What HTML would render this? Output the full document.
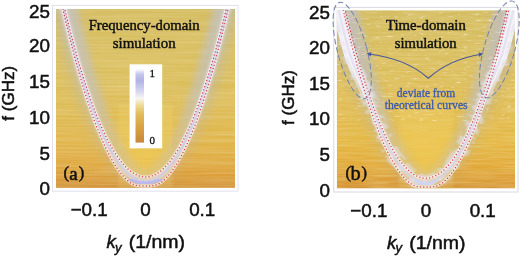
<!DOCTYPE html>
<html><head><meta charset="utf-8"><title>Dispersion</title>
<style>html,body{margin:0;padding:0;background:#fff;width:520px;height:258px;overflow:hidden}svg{display:block}</style></head>
<body>
<svg width="520" height="258" viewBox="0 0 520 258">
<defs>
<linearGradient id="bgL" x1="0" y1="0" x2="0" y2="1">
<stop offset="0" stop-color="#d4bc60"/><stop offset="0.25" stop-color="#d9bf60"/><stop offset="0.5" stop-color="#ddbd58"/><stop offset="0.73" stop-color="#e1b54a"/><stop offset="0.87" stop-color="#e0a73e"/><stop offset="0.95" stop-color="#d99a38"/><stop offset="1" stop-color="#d29036"/>
</linearGradient>
<linearGradient id="bgR" x1="0" y1="0" x2="0" y2="1">
<stop offset="0" stop-color="#d3bb60"/><stop offset="0.25" stop-color="#d9be5e"/><stop offset="0.5" stop-color="#dfbc54"/><stop offset="0.73" stop-color="#e5b742"/><stop offset="0.87" stop-color="#e3a938"/><stop offset="0.95" stop-color="#dc9c36"/><stop offset="1" stop-color="#d49234"/>
</linearGradient>
<linearGradient id="inglowL" gradientUnits="userSpaceOnUse" x1="0" y1="100" x2="0" y2="180"><stop offset="0" stop-color="#ecc84c" stop-opacity="0"/><stop offset="0.6" stop-color="#eec84a" stop-opacity="0.55"/><stop offset="1" stop-color="#f0c646" stop-opacity="0.8"/></linearGradient>
<linearGradient id="inglowR" gradientUnits="userSpaceOnUse" x1="0" y1="100" x2="0" y2="180"><stop offset="0" stop-color="#ecc84c" stop-opacity="0"/><stop offset="0.6" stop-color="#eec84a" stop-opacity="0.55"/><stop offset="1" stop-color="#f0c646" stop-opacity="0.8"/></linearGradient>
<linearGradient id="cbar" x1="0" y1="0" x2="0" y2="1">
<stop offset="0" stop-color="#ffffff"/><stop offset="0.07" stop-color="#c6c6ee"/><stop offset="0.16" stop-color="#b2b2e6"/><stop offset="0.3" stop-color="#d6d6f2"/><stop offset="0.4" stop-color="#f8f6f0"/><stop offset="0.5" stop-color="#ecd890"/><stop offset="0.62" stop-color="#e0bc58"/><stop offset="0.8" stop-color="#d8a042"/><stop offset="1" stop-color="#c8883a"/>
</linearGradient>
<linearGradient id="tf" x1="0" y1="0" x2="0" y2="1"><stop offset="0" stop-color="#fff"/><stop offset="0.3" stop-color="#fff"/><stop offset="0.55" stop-color="#000"/><stop offset="1" stop-color="#000"/></linearGradient>
<linearGradient id="hf" x1="0" y1="0" x2="0" y2="1"><stop offset="0" stop-color="#fff"/><stop offset="0.45" stop-color="#c4c4c4"/><stop offset="1" stop-color="#3a3a3a"/></linearGradient>
<mask id="halofadeL" maskUnits="userSpaceOnUse" x="50" y="0" width="190" height="200"><rect x="50" y="0" width="190" height="200" fill="url(#hf)"/></mask>
<mask id="halofadeR" maskUnits="userSpaceOnUse" x="330" y="0" width="190" height="200"><rect x="330" y="0" width="190" height="200" fill="url(#hf)"/></mask>
<mask id="topfade" maskUnits="userSpaceOnUse" x="330" y="0" width="190" height="200"><rect x="330" y="0" width="190" height="200" fill="url(#tf)"/></mask>
<filter id="streakL" x="0" y="0" width="1" height="1"><feTurbulence type="fractalNoise" baseFrequency="0.012 0.55" numOctaves="2" seed="3"/><feColorMatrix type="matrix" values="0 0 0 0 0.76  0 0 0 0 0.63  0 0 0 0 0.28  1.6 0 0 0 -0.6"/></filter>
<filter id="streakR" x="0" y="0" width="1" height="1"><feTurbulence type="fractalNoise" baseFrequency="0.03 0.6" numOctaves="2" seed="8"/><feColorMatrix type="matrix" values="0 0 0 0 0.80  0 0 0 0 0.64  0 0 0 0 0.24  1.7 0 0 0 -0.62"/></filter>
<filter id="liteL" x="0" y="0" width="1" height="1"><feTurbulence type="fractalNoise" baseFrequency="0.012 0.5" numOctaves="2" seed="11"/><feColorMatrix type="matrix" values="0 0 0 0 0.96  0 0 0 0 0.88  0 0 0 0 0.56  1.6 0 0 0 -0.6"/></filter>
<filter id="liteR" x="0" y="0" width="1" height="1"><feTurbulence type="fractalNoise" baseFrequency="0.03 0.55" numOctaves="2" seed="17"/><feColorMatrix type="matrix" values="0 0 0 0 0.97  0 0 0 0 0.88  0 0 0 0 0.5  1.7 0 0 0 -0.62"/></filter>
<filter id="speck" x="0" y="0" width="1" height="1"><feTurbulence type="fractalNoise" baseFrequency="0.16 0.5" numOctaves="1" seed="21"/><feColorMatrix type="matrix" values="0 0 0 0 0.93  0 0 0 0 0.90  0 0 0 0 0.82  5 0 0 0 -3.05"/></filter>
<filter id="blur5" x="-0.2" y="-0.2" width="1.4" height="1.4"><feGaussianBlur stdDeviation="5"/></filter>
<filter id="blotch" x="-0.1" y="-0.1" width="1.2" height="1.2"><feTurbulence type="fractalNoise" baseFrequency="0.09 0.14" numOctaves="2" seed="5" result="n"/><feColorMatrix in="n" type="matrix" values="0 0 0 0 1  0 0 0 0 1  0 0 0 0 1  0 0 0 9 -4.1" result="m"/><feGaussianBlur in="SourceGraphic" stdDeviation="1.2" result="b"/><feComposite in="b" in2="m" operator="in" result="c"/><feGaussianBlur in="c" stdDeviation="0.7"/></filter>
<filter id="blur3" x="-0.2" y="-0.2" width="1.4" height="1.4"><feGaussianBlur stdDeviation="3"/></filter>
<filter id="blur2" x="-0.2" y="-0.2" width="1.4" height="1.4"><feGaussianBlur stdDeviation="1.5"/></filter>
<filter id="blur1" x="-0.2" y="-0.2" width="1.4" height="1.4"><feGaussianBlur stdDeviation="0.7"/></filter>
</defs>
<style>
text{font-family:"Liberation Sans",sans-serif;fill:#111;stroke:#111;stroke-width:0.5px}
.tk{font-size:18.8px}
.ser{font-family:"Liberation Serif",serif;stroke-width:0}
.blue{fill:#3b59ac;stroke:#3b59ac;stroke-width:0.3px}
</style>
<rect width="520" height="258" fill="#fff"/>
<rect x="52.5" y="5.4" width="185.5" height="185.79999999999998" fill="#fff" stroke="#e2e2ee" stroke-width="1"/>
<clipPath id="clipL"><rect x="56" y="9" width="179" height="178.9"/></clipPath>
<g clip-path="url(#clipL)">
<rect x="56" y="9" width="179" height="178.9" fill="url(#bgL)"/>
<rect x="56" y="9" width="179" height="178.9" filter="url(#streakL)" opacity="0.5"/>
<rect x="56" y="9" width="179" height="178.9" filter="url(#liteL)" opacity="0.25"/>
<path d="M62.9,1.0 L65.9,13.6 L68.9,25.7 L71.9,37.3 L74.9,48.5 L77.9,59.2 L80.9,69.4 L83.9,79.2 L86.9,88.5 L89.9,97.3 L92.9,105.7 L95.9,113.6 L98.9,121.1 L102.0,128.1 L105.0,134.6 L108.0,140.6 L111.0,146.2 L114.0,151.3 L117.0,156.0 L120.0,160.2 L123.0,163.9 L126.0,167.2 L129.0,170.0 L132.0,172.3 L135.0,174.1 L138.0,175.5 L141.0,176.5 L144.0,176.9 L147.0,176.9 L150.0,176.5 L153.0,175.5 L156.0,174.1 L159.0,172.3 L162.0,170.0 L165.0,167.2 L168.0,163.9 L171.0,160.2 L174.0,156.0 L177.0,151.3 L180.0,146.2 L183.0,140.6 L186.0,134.6 L189.0,128.1 L192.1,121.1 L195.1,113.6 L198.1,105.7 L201.1,97.3 L204.1,88.5 L207.1,79.2 L210.1,69.4 L213.1,59.2 L216.1,48.5 L219.1,37.3 L222.1,25.7 L225.1,13.6 L228.1,1.0 Z" fill="url(#inglowL)" stroke="none"/>
<rect x="118.5" y="104" width="54" height="83.9" fill="#f4dc7c" opacity="0.22" filter="url(#blur2)"/>
<path d="M61.9,1.0 L63.4,7.4 L64.9,13.8 L66.4,20.0 L67.9,26.1 L69.4,32.1 L70.9,37.9 L72.4,43.7 L73.9,49.3 L75.4,54.8 L76.9,60.2 L78.4,65.5 L79.9,70.6 L81.4,75.7 L83.0,80.6 L84.5,85.4 L86.0,90.1 L87.5,94.6 L89.0,99.1 L90.5,103.4 L92.0,107.7 L93.5,111.8 L95.0,115.7 L96.5,119.6 L98.0,123.4 L99.5,127.0 L101.0,130.5 L102.5,133.9 L104.1,137.2 L105.6,140.3 L107.1,143.4 L108.6,146.3 L110.1,149.1 L111.6,151.8 L113.1,154.4 L114.6,156.9 L116.1,159.2 L117.6,161.4 L119.1,163.6 L120.6,165.5 L122.1,167.4 L123.6,169.2 L125.2,170.8 L126.7,172.3 L128.2,173.8 L129.7,175.0 L131.2,176.2 L132.7,177.3 L134.2,178.2 L135.7,179.0 L137.2,179.7 L138.7,180.3 L140.2,180.8 L141.7,181.1 L143.2,181.4 L144.7,181.5 L146.3,181.5 L147.8,181.4 L149.3,181.1 L150.8,180.8 L152.3,180.3 L153.8,179.7 L155.3,179.0 L156.8,178.2 L158.3,177.3 L159.8,176.2 L161.3,175.0 L162.8,173.8 L164.3,172.3 L165.8,170.8 L167.4,169.2 L168.9,167.4 L170.4,165.5 L171.9,163.6 L173.4,161.4 L174.9,159.2 L176.4,156.9 L177.9,154.4 L179.4,151.8 L180.9,149.1 L182.4,146.3 L183.9,143.4 L185.4,140.3 L186.9,137.2 L188.5,133.9 L190.0,130.5 L191.5,127.0 L193.0,123.4 L194.5,119.6 L196.0,115.7 L197.5,111.8 L199.0,107.7 L200.5,103.4 L202.0,99.1 L203.5,94.6 L205.0,90.1 L206.5,85.4 L208.0,80.6 L209.6,75.7 L211.1,70.6 L212.6,65.5 L214.1,60.2 L215.6,54.8 L217.1,49.3 L218.6,43.7 L220.1,37.9 L221.6,32.1 L223.1,26.1 L224.6,20.0 L226.1,13.8 L227.6,7.4 L229.1,1.0" fill="none" stroke="#b2b4c0" stroke-width="24" opacity="0.36" filter="url(#blur5)" mask="url(#halofadeL)"/>
<path d="M66.4,1.0 L67.9,7.4 L69.4,13.8 L70.9,20.0 L72.4,26.1 L73.9,32.1 L75.4,37.9 L76.9,43.7 L78.4,49.3 L79.9,54.8 L81.4,60.2 L82.9,65.5 L84.4,70.6 L85.9,75.7 L87.5,80.6 L89.0,85.4 L90.5,90.1 L92.0,94.6 L93.5,99.1 L95.0,103.4 L96.5,107.7 L98.0,111.8 L99.5,115.7 L101.0,119.6 L102.5,123.4 L104.0,127.0 L105.5,130.5 L107.0,133.9 L108.6,137.2 L110.1,140.3 L111.6,143.4 L113.1,146.3 L114.6,149.1 L116.1,151.8 L117.6,154.4 L119.1,156.9 L120.6,159.2 L122.1,161.4 L123.6,163.6 L125.1,165.5 L126.6,167.4 L128.1,169.2 L129.7,170.8 L131.2,172.3 L132.7,173.8 L134.2,175.0 L135.7,176.2 L137.2,177.3 L138.7,178.2 L140.2,179.0 L141.7,179.7 L143.2,180.3 L144.7,180.8 L146.2,181.1 L147.7,181.4 L149.2,181.5 L141.8,181.5 L143.3,181.4 L144.8,181.1 L146.3,180.8 L147.8,180.3 L149.3,179.7 L150.8,179.0 L152.3,178.2 L153.8,177.3 L155.3,176.2 L156.8,175.0 L158.3,173.8 L159.8,172.3 L161.3,170.8 L162.9,169.2 L164.4,167.4 L165.9,165.5 L167.4,163.6 L168.9,161.4 L170.4,159.2 L171.9,156.9 L173.4,154.4 L174.9,151.8 L176.4,149.1 L177.9,146.3 L179.4,143.4 L180.9,140.3 L182.4,137.2 L184.0,133.9 L185.5,130.5 L187.0,127.0 L188.5,123.4 L190.0,119.6 L191.5,115.7 L193.0,111.8 L194.5,107.7 L196.0,103.4 L197.5,99.1 L199.0,94.6 L200.5,90.1 L202.0,85.4 L203.5,80.6 L205.1,75.7 L206.6,70.6 L208.1,65.5 L209.6,60.2 L211.1,54.8 L212.6,49.3 L214.1,43.7 L215.6,37.9 L217.1,32.1 L218.6,26.1 L220.1,20.0 L221.6,13.8 L223.1,7.4 L224.6,1.0" fill="none" stroke="#c4c5cc" stroke-width="18" opacity="0.6" filter="url(#blur3)" mask="url(#halofadeL)"/>
<path d="M61.9,1.0 L63.4,7.4 L64.9,13.8 L66.4,20.0 L67.9,26.1 L69.4,32.1 L70.9,37.9 L72.4,43.7 L73.9,49.3 L75.4,54.8 L76.9,60.2 L78.4,65.5 L79.9,70.6 L81.4,75.7 L83.0,80.6 L84.5,85.4 L86.0,90.1 L87.5,94.6 L89.0,99.1 L90.5,103.4 L92.0,107.7 L93.5,111.8 L95.0,115.7 L96.5,119.6 L98.0,123.4 L99.5,127.0 L101.0,130.5 L102.5,133.9 L104.1,137.2 L105.6,140.3 L107.1,143.4 L108.6,146.3 L110.1,149.1 L111.6,151.8 L113.1,154.4 L114.6,156.9 L116.1,159.2 L117.6,161.4 L119.1,163.6 L120.6,165.5 L122.1,167.4 L123.6,169.2 L125.2,170.8 L126.7,172.3 L128.2,173.8 L129.7,175.0 L131.2,176.2 L132.7,177.3 L134.2,178.2 L135.7,179.0 L137.2,179.7 L138.7,180.3 L140.2,180.8 L141.7,181.1 L143.2,181.4 L144.7,181.5 L146.3,181.5 L147.8,181.4 L149.3,181.1 L150.8,180.8 L152.3,180.3 L153.8,179.7 L155.3,179.0 L156.8,178.2 L158.3,177.3 L159.8,176.2 L161.3,175.0 L162.8,173.8 L164.3,172.3 L165.8,170.8 L167.4,169.2 L168.9,167.4 L170.4,165.5 L171.9,163.6 L173.4,161.4 L174.9,159.2 L176.4,156.9 L177.9,154.4 L179.4,151.8 L180.9,149.1 L182.4,146.3 L183.9,143.4 L185.4,140.3 L186.9,137.2 L188.5,133.9 L190.0,130.5 L191.5,127.0 L193.0,123.4 L194.5,119.6 L196.0,115.7 L197.5,111.8 L199.0,107.7 L200.5,103.4 L202.0,99.1 L203.5,94.6 L205.0,90.1 L206.5,85.4 L208.0,80.6 L209.6,75.7 L211.1,70.6 L212.6,65.5 L214.1,60.2 L215.6,54.8 L217.1,49.3 L218.6,43.7 L220.1,37.9 L221.6,32.1 L223.1,26.1 L224.6,20.0 L226.1,13.8 L227.6,7.4 L229.1,1.0" fill="none" stroke="#efeef6" stroke-width="6" opacity="0.65" filter="url(#blur2)"/>
<path d="M62.9,1.0 L64.4,7.3 L65.9,13.6 L67.4,19.7 L68.9,25.7 L70.4,31.5 L71.9,37.3 L73.4,42.9 L74.9,48.5 L76.4,53.9 L77.9,59.2 L79.4,64.4 L80.9,69.4 L82.4,74.4 L83.9,79.2 L85.4,83.9 L86.9,88.5 L88.4,93.0 L89.9,97.3 L91.4,101.6 L92.9,105.7 L94.4,109.7 L95.9,113.6 L97.4,117.4 L98.9,121.1 L100.4,124.6 L102.0,128.1 L103.5,131.4 L105.0,134.6 L106.5,137.7 L108.0,140.6 L109.5,143.5 L111.0,146.2 L112.5,148.8 L114.0,151.3 L115.5,153.7 L117.0,156.0 L118.5,158.1 L120.0,160.2 L121.5,162.1 L123.0,163.9 L124.5,165.6 L126.0,167.2 L127.5,168.6 L129.0,170.0 L130.5,171.2 L132.0,172.3 L133.5,173.3 L135.0,174.1 L136.5,174.9 L138.0,175.5 L139.5,176.1 L141.0,176.5 L142.5,176.8 L144.0,176.9 L145.5,177.0 L147.0,176.9 L148.5,176.8 L150.0,176.5 L151.5,176.1 L153.0,175.5 L154.5,174.9 L156.0,174.1 L157.5,173.3 L159.0,172.3 L160.5,171.2 L162.0,170.0 L163.5,168.6 L165.0,167.2 L166.5,165.6 L168.0,163.9 L169.5,162.1 L171.0,160.2 L172.5,158.1 L174.0,156.0 L175.5,153.7 L177.0,151.3 L178.5,148.8 L180.0,146.2 L181.5,143.5 L183.0,140.6 L184.5,137.7 L186.0,134.6 L187.5,131.4 L189.0,128.1 L190.6,124.6 L192.1,121.1 L193.6,117.4 L195.1,113.6 L196.6,109.7 L198.1,105.7 L199.6,101.6 L201.1,97.3 L202.6,93.0 L204.1,88.5 L205.6,83.9 L207.1,79.2 L208.6,74.4 L210.1,69.4 L211.6,64.4 L213.1,59.2 L214.6,53.9 L216.1,48.5 L217.6,42.9 L219.1,37.3 L220.6,31.5 L222.1,25.7 L223.6,19.7 L225.1,13.6 L226.6,7.3 L228.1,1.0" fill="none" stroke="#faf7f8" stroke-width="2.8" opacity="0.7" filter="url(#blur1)"/>
<path d="M61.1,1.0 L62.6,7.7 L64.1,14.3 L65.6,20.7 L67.1,27.0 L68.6,33.2 L70.1,39.3 L71.6,45.3 L73.1,51.1 L74.6,56.8 L76.1,62.4 L77.6,67.9 L79.2,73.3 L80.7,78.5 L82.2,83.6 L83.7,88.6 L85.2,93.5 L86.7,98.3 L88.2,102.9 L89.7,107.4 L91.2,111.8 L92.7,116.1 L94.2,120.2 L95.7,124.3 L97.2,128.2 L98.8,132.0 L100.3,135.6 L101.8,139.2 L103.3,142.6 L104.8,145.9 L106.3,149.1 L107.8,152.1 L109.3,155.1 L110.8,157.9 L112.3,160.6 L113.8,163.1 L115.3,165.6 L116.8,167.9 L118.4,170.1 L119.9,172.1 L121.4,174.1 L122.9,175.9 L124.4,177.5 L125.9,179.1 L127.4,180.4 L128.9,181.7 L130.4,182.8 L131.9,183.7 L133.4,184.4 L134.9,185.0 L136.5,185.4 L138.0,185.7 L139.5,185.9 L141.0,186.0 L142.5,186.0 L144.0,186.0 L145.5,186.0 L147.0,186.0 L148.5,186.0 L150.0,186.0 L151.5,185.9 L153.0,185.7 L154.5,185.4 L156.1,185.0 L157.6,184.4 L159.1,183.7 L160.6,182.8 L162.1,181.7 L163.6,180.4 L165.1,179.1 L166.6,177.5 L168.1,175.9 L169.6,174.1 L171.1,172.1 L172.6,170.1 L174.2,167.9 L175.7,165.6 L177.2,163.1 L178.7,160.6 L180.2,157.9 L181.7,155.1 L183.2,152.1 L184.7,149.1 L186.2,145.9 L187.7,142.6 L189.2,139.2 L190.7,135.6 L192.2,132.0 L193.8,128.2 L195.3,124.3 L196.8,120.2 L198.3,116.1 L199.8,111.8 L201.3,107.4 L202.8,102.9 L204.3,98.3 L205.8,93.5 L207.3,88.6 L208.8,83.6 L210.3,78.5 L211.8,73.3 L213.4,67.9 L214.9,62.4 L216.4,56.8 L217.9,51.1 L219.4,45.3 L220.9,39.3 L222.4,33.2 L223.9,27.0 L225.4,20.7 L226.9,14.3 L228.4,7.7 L229.9,1.0" fill="none" stroke="#faf7f8" stroke-width="2.8" opacity="0.7" filter="url(#blur1)"/>
<path d="M61.9,1.0 L63.4,7.4 L64.9,13.8 L66.4,20.0 L67.9,26.1 L69.4,32.1 L70.9,37.9 L72.4,43.7 L73.9,49.3 L75.4,54.8 L76.9,60.2 L78.4,65.5 L79.9,70.6 L81.4,75.7 L83.0,80.6 L84.5,85.4 L86.0,90.1 L87.5,94.6 L89.0,99.1 L90.5,103.4 L92.0,107.7 L93.5,111.8 L95.0,115.7 L96.5,119.6 L98.0,123.4 L99.5,127.0 L101.0,130.5 L102.5,133.9 L104.1,137.2 L105.6,140.3 L107.1,143.4 L108.6,146.3 L110.1,149.1 L111.6,151.8 L113.1,154.4 L114.6,156.9 L116.1,159.2 L117.6,161.4 L119.1,163.6 L120.6,165.5 L122.1,167.4 L123.6,169.2 L125.2,170.8 L126.7,172.3 L128.2,173.8 L129.7,175.0 L131.2,176.2 L132.7,177.3 L134.2,178.2 L135.7,179.0 L137.2,179.7 L138.7,180.3 L140.2,180.8 L141.7,181.1 L143.2,181.4 L144.7,181.5 L146.3,181.5 L147.8,181.4 L149.3,181.1 L150.8,180.8 L152.3,180.3 L153.8,179.7 L155.3,179.0 L156.8,178.2 L158.3,177.3 L159.8,176.2 L161.3,175.0 L162.8,173.8 L164.3,172.3 L165.8,170.8 L167.4,169.2 L168.9,167.4 L170.4,165.5 L171.9,163.6 L173.4,161.4 L174.9,159.2 L176.4,156.9 L177.9,154.4 L179.4,151.8 L180.9,149.1 L182.4,146.3 L183.9,143.4 L185.4,140.3 L186.9,137.2 L188.5,133.9 L190.0,130.5 L191.5,127.0 L193.0,123.4 L194.5,119.6 L196.0,115.7 L197.5,111.8 L199.0,107.7 L200.5,103.4 L202.0,99.1 L203.5,94.6 L205.0,90.1 L206.5,85.4 L208.0,80.6 L209.6,75.7 L211.1,70.6 L212.6,65.5 L214.1,60.2 L215.6,54.8 L217.1,49.3 L218.6,43.7 L220.1,37.9 L221.6,32.1 L223.1,26.1 L224.6,20.0 L226.1,13.8 L227.6,7.4 L229.1,1.0" fill="none" stroke="#cac6f0" stroke-width="2.6" opacity="0.6" filter="url(#blur1)"/>
<path d="M130.0,179.7 Q145.5,186.5 161.0,179.7" fill="none" stroke="#b9b8f0" stroke-width="3" stroke-linecap="round" opacity="0.95" filter="url(#blur1)"/>
<path d="M62.9,1.0 L63.9,5.2 L64.9,9.4 L65.9,13.6 L66.9,17.7 L67.9,21.7 L68.9,25.7 L69.9,29.6 L70.9,33.5 L71.9,37.3 L72.9,41.1 L73.9,44.8 L74.9,48.5 L75.9,52.1 L76.9,55.7 L77.9,59.2 L78.9,62.6 L79.9,66.1 L80.9,69.4 L81.9,72.7 L82.9,76.0 L83.9,79.2 L84.9,82.4 L85.9,85.5 L86.9,88.5 L87.9,91.5 L88.9,94.5 L89.9,97.3 L90.9,100.2 L91.9,103.0 L92.9,105.7 L93.9,108.4 L94.9,111.1 L95.9,113.6 L96.9,116.2 L97.9,118.7 L98.9,121.1 L99.9,123.5 L100.9,125.8 L102.0,128.1 L103.0,130.3 L104.0,132.5 L105.0,134.6 L106.0,136.7 L107.0,138.7 L108.0,140.6 L109.0,142.5 L110.0,144.4 L111.0,146.2 L112.0,148.0 L113.0,149.7 L114.0,151.3 L115.0,152.9 L116.0,154.5 L117.0,156.0 L118.0,157.4 L119.0,158.8 L120.0,160.2 L121.0,161.5 L122.0,162.7 L123.0,163.9 L124.0,165.0 L125.0,166.1 L126.0,167.2 L127.0,168.1 L128.0,169.1 L129.0,170.0 L130.0,170.8 L131.0,171.6 L132.0,172.3 L133.0,173.0 L134.0,173.6 L135.0,174.1 L136.0,174.7 L137.0,175.1 L138.0,175.5 L139.0,175.9 L140.0,176.2 L141.0,176.5 L142.0,176.7 L143.0,176.8 L144.0,176.9 L145.0,177.0 L146.0,177.0 L147.0,176.9 L148.0,176.8 L149.0,176.7 L150.0,176.5 L151.0,176.2 L152.0,175.9 L153.0,175.5 L154.0,175.1 L155.0,174.7 L156.0,174.1 L157.0,173.6 L158.0,173.0 L159.0,172.3 L160.0,171.6 L161.0,170.8 L162.0,170.0 L163.0,169.1 L164.0,168.1 L165.0,167.2 L166.0,166.1 L167.0,165.0 L168.0,163.9 L169.0,162.7 L170.0,161.5 L171.0,160.2 L172.0,158.8 L173.0,157.4 L174.0,156.0 L175.0,154.5 L176.0,152.9 L177.0,151.3 L178.0,149.7 L179.0,148.0 L180.0,146.2 L181.0,144.4 L182.0,142.5 L183.0,140.6 L184.0,138.7 L185.0,136.7 L186.0,134.6 L187.0,132.5 L188.0,130.3 L189.0,128.1 L190.1,125.8 L191.1,123.5 L192.1,121.1 L193.1,118.7 L194.1,116.2 L195.1,113.6 L196.1,111.1 L197.1,108.4 L198.1,105.7 L199.1,103.0 L200.1,100.2 L201.1,97.3 L202.1,94.5 L203.1,91.5 L204.1,88.5 L205.1,85.5 L206.1,82.4 L207.1,79.2 L208.1,76.0 L209.1,72.7 L210.1,69.4 L211.1,66.1 L212.1,62.6 L213.1,59.2 L214.1,55.7 L215.1,52.1 L216.1,48.5 L217.1,44.8 L218.1,41.1 L219.1,37.3 L220.1,33.5 L221.1,29.6 L222.1,25.7 L223.1,21.7 L224.1,17.7 L225.1,13.6 L226.1,9.4 L227.1,5.2 L228.1,1.0" fill="none" stroke="#d23c46" stroke-width="1.4" stroke-linecap="round" stroke-dasharray="0.01 3.3" stroke-dashoffset="0" opacity="0.95"/>
<path d="M61.1,1.0 L62.1,5.5 L63.1,9.9 L64.1,14.3 L65.1,18.6 L66.1,22.8 L67.1,27.0 L68.1,31.2 L69.1,35.3 L70.1,39.3 L71.1,43.3 L72.1,47.2 L73.1,51.1 L74.1,54.9 L75.1,58.7 L76.1,62.4 L77.1,66.1 L78.1,69.7 L79.2,73.3 L80.2,76.8 L81.2,80.2 L82.2,83.6 L83.2,87.0 L84.2,90.3 L85.2,93.5 L86.2,96.7 L87.2,99.8 L88.2,102.9 L89.2,105.9 L90.2,108.9 L91.2,111.8 L92.2,114.7 L93.2,117.5 L94.2,120.2 L95.2,122.9 L96.2,125.6 L97.2,128.2 L98.3,130.7 L99.3,133.2 L100.3,135.6 L101.3,138.0 L102.3,140.3 L103.3,142.6 L104.3,144.8 L105.3,147.0 L106.3,149.1 L107.3,151.1 L108.3,153.1 L109.3,155.1 L110.3,157.0 L111.3,158.8 L112.3,160.6 L113.3,162.3 L114.3,164.0 L115.3,165.6 L116.3,167.1 L117.4,168.6 L118.4,170.1 L119.4,171.5 L120.4,172.8 L121.4,174.1 L122.4,175.3 L123.4,176.4 L124.4,177.5 L125.4,178.6 L126.4,179.5 L127.4,180.4 L128.4,181.3 L129.4,182.1 L130.4,182.8 L131.4,183.4 L132.4,184.0 L133.4,184.4 L134.4,184.9 L135.4,185.2 L136.5,185.4 L137.5,185.6 L138.5,185.8 L139.5,185.9 L140.5,185.9 L141.5,186.0 L142.5,186.0 L143.5,186.0 L144.5,186.0 L145.5,186.0 L146.5,186.0 L147.5,186.0 L148.5,186.0 L149.5,186.0 L150.5,185.9 L151.5,185.9 L152.5,185.8 L153.5,185.6 L154.5,185.4 L155.6,185.2 L156.6,184.9 L157.6,184.4 L158.6,184.0 L159.6,183.4 L160.6,182.8 L161.6,182.1 L162.6,181.3 L163.6,180.4 L164.6,179.5 L165.6,178.6 L166.6,177.5 L167.6,176.4 L168.6,175.3 L169.6,174.1 L170.6,172.8 L171.6,171.5 L172.6,170.1 L173.6,168.6 L174.7,167.1 L175.7,165.6 L176.7,164.0 L177.7,162.3 L178.7,160.6 L179.7,158.8 L180.7,157.0 L181.7,155.1 L182.7,153.1 L183.7,151.1 L184.7,149.1 L185.7,147.0 L186.7,144.8 L187.7,142.6 L188.7,140.3 L189.7,138.0 L190.7,135.6 L191.7,133.2 L192.7,130.7 L193.8,128.2 L194.8,125.6 L195.8,122.9 L196.8,120.2 L197.8,117.5 L198.8,114.7 L199.8,111.8 L200.8,108.9 L201.8,105.9 L202.8,102.9 L203.8,99.8 L204.8,96.7 L205.8,93.5 L206.8,90.3 L207.8,87.0 L208.8,83.6 L209.8,80.2 L210.8,76.8 L211.8,73.3 L212.9,69.7 L213.9,66.1 L214.9,62.4 L215.9,58.7 L216.9,54.9 L217.9,51.1 L218.9,47.2 L219.9,43.3 L220.9,39.3 L221.9,35.3 L222.9,31.2 L223.9,27.0 L224.9,22.8 L225.9,18.6 L226.9,14.3 L227.9,9.9 L228.9,5.5 L229.9,1.0" fill="none" stroke="#d23c46" stroke-width="1.4" stroke-linecap="round" stroke-dasharray="0.01 3.3" stroke-dashoffset="1.65" opacity="0.95"/>
</g>
<rect x="333.8" y="7.4" width="184.2" height="184.6" fill="#fff" stroke="#d9d9e0" stroke-width="1"/>
<clipPath id="clipR"><rect x="336.8" y="10.3" width="178.2" height="178.2"/></clipPath>
<g clip-path="url(#clipR)">
<rect x="336.8" y="10.3" width="178.2" height="178.2" fill="url(#bgR)"/>
<rect x="336.8" y="10.3" width="178.2" height="178.2" filter="url(#streakR)" opacity="0.5"/>
<rect x="336.8" y="10.3" width="178.2" height="178.2" filter="url(#liteR)" opacity="0.25"/>
<path d="M343.4,2.3 L346.4,14.9 L349.4,27.0 L352.4,38.6 L355.4,49.7 L358.4,60.4 L361.4,70.7 L364.4,80.5 L367.5,89.8 L370.5,98.6 L373.5,107.0 L376.5,114.9 L379.5,122.3 L382.5,129.3 L385.5,135.8 L388.5,141.9 L391.5,147.4 L394.5,152.6 L397.5,157.2 L400.5,161.4 L403.5,165.1 L406.5,168.4 L409.5,171.2 L412.5,173.5 L415.5,175.4 L418.5,176.7 L421.5,177.7 L424.5,178.1 L427.5,178.1 L430.5,177.7 L433.5,176.7 L436.5,175.4 L439.5,173.5 L442.5,171.2 L445.5,168.4 L448.5,165.1 L451.5,161.4 L454.5,157.2 L457.5,152.6 L460.5,147.4 L463.5,141.9 L466.5,135.8 L469.5,129.3 L472.5,122.3 L475.5,114.9 L478.5,107.0 L481.5,98.6 L484.5,89.8 L487.6,80.5 L490.6,70.7 L493.6,60.4 L496.6,49.7 L499.6,38.6 L502.6,27.0 L505.6,14.9 L508.6,2.3 Z" fill="url(#inglowR)" stroke="none"/>
<rect x="399" y="105.3" width="54" height="83.19999999999999" fill="#f4dc7c" opacity="0.22" filter="url(#blur2)"/>
<path d="M336.8,2.3 L338.3,8.7 L339.8,15.1 L341.3,21.3 L342.8,27.4 L344.3,33.3 L345.8,39.2 L347.3,44.9 L348.9,50.5 L350.5,56.0 L352.5,61.4 L354.6,66.7 L356.8,71.8 L359.1,76.9 L361.3,81.8 L363.5,86.6 L365.6,91.3 L367.6,95.8 L369.4,100.3 L371.0,104.6 L372.5,108.8 L374.0,112.9 L375.5,116.9 L377.0,120.8 L378.6,124.5 L380.1,128.1 L381.6,131.7 L383.1,135.1 L384.6,138.3 L386.1,141.5 L387.6,144.5 L389.1,147.5 L390.6,150.3 L392.1,153.0 L393.6,155.5 L395.1,158.0 L396.6,160.3 L398.1,162.6 L399.6,164.7 L401.1,166.7 L402.7,168.5 L404.2,170.3 L405.7,171.9 L407.2,173.5 L408.7,174.9 L410.2,176.1 L411.7,177.3 L413.2,178.4 L414.7,179.3 L416.2,180.1 L417.7,180.8 L419.2,181.4 L420.7,181.9 L422.2,182.2 L423.7,182.5 L425.2,182.6 L426.8,182.6 L428.3,182.5 L429.8,182.2 L431.3,181.9 L432.8,181.4 L434.3,180.8 L435.8,180.1 L437.3,179.3 L438.8,178.4 L440.3,177.3 L441.8,176.1 L443.3,174.9 L444.8,173.5 L446.3,171.9 L447.8,170.3 L449.3,168.5 L450.9,166.7 L452.4,164.7 L453.9,162.6 L455.4,160.3 L456.9,158.0 L458.4,155.5 L459.9,153.0 L461.4,150.3 L462.9,147.5 L464.4,144.5 L465.9,141.5 L467.4,138.3 L468.9,135.1 L470.4,131.7 L471.9,128.1 L473.4,124.5 L475.0,120.8 L476.5,116.9 L478.0,112.9 L479.5,108.8 L481.0,104.6 L482.6,100.3 L484.4,95.8 L486.4,91.3 L488.5,86.6 L490.7,81.8 L492.9,76.9 L495.2,71.8 L497.4,66.7 L499.5,61.4 L501.5,56.0 L503.1,50.5 L504.7,44.9 L506.2,39.2 L507.7,33.3 L509.2,27.4 L510.7,21.3 L512.2,15.1 L513.7,8.7 L515.2,2.3" fill="none" stroke="#b2b4c0" stroke-width="24" opacity="0.36" filter="url(#blur5)" mask="url(#halofadeR)"/>
<path d="M346.9,2.3 L348.4,8.7 L349.9,15.1 L351.4,21.3 L352.9,27.4 L354.4,33.3 L355.9,39.2 L357.4,44.9 L359.0,50.5 L360.5,56.0 L362.0,61.4 L363.5,66.7 L365.0,71.8 L366.5,76.9 L368.0,81.8 L369.5,86.6 L371.0,91.3 L372.5,95.8 L374.0,100.3 L375.5,104.6 L377.0,108.8 L378.5,112.9 L380.0,116.9 L381.5,120.8 L383.1,124.5 L384.6,128.1 L386.1,131.7 L387.6,135.1 L389.1,138.3 L390.6,141.5 L392.1,144.5 L393.6,147.5 L395.1,150.3 L396.6,153.0 L398.1,155.5 L399.6,158.0 L401.1,160.3 L402.6,162.6 L404.1,164.7 L405.6,166.7 L407.2,168.5 L408.7,170.3 L410.2,171.9 L411.7,173.5 L413.2,174.9 L414.7,176.1 L416.2,177.3 L417.7,178.4 L419.2,179.3 L420.7,180.1 L422.2,180.8 L423.7,181.4 L425.2,181.9 L426.7,182.2 L428.2,182.5 L429.7,182.6 L422.3,182.6 L423.8,182.5 L425.3,182.2 L426.8,181.9 L428.3,181.4 L429.8,180.8 L431.3,180.1 L432.8,179.3 L434.3,178.4 L435.8,177.3 L437.3,176.1 L438.8,174.9 L440.3,173.5 L441.8,171.9 L443.3,170.3 L444.8,168.5 L446.4,166.7 L447.9,164.7 L449.4,162.6 L450.9,160.3 L452.4,158.0 L453.9,155.5 L455.4,153.0 L456.9,150.3 L458.4,147.5 L459.9,144.5 L461.4,141.5 L462.9,138.3 L464.4,135.1 L465.9,131.7 L467.4,128.1 L468.9,124.5 L470.5,120.8 L472.0,116.9 L473.5,112.9 L475.0,108.8 L476.5,104.6 L478.0,100.3 L479.5,95.8 L481.0,91.3 L482.5,86.6 L484.0,81.8 L485.5,76.9 L487.0,71.8 L488.5,66.7 L490.0,61.4 L491.5,56.0 L493.0,50.5 L494.6,44.9 L496.1,39.2 L497.6,33.3 L499.1,27.4 L500.6,21.3 L502.1,15.1 L503.6,8.7 L505.1,2.3" fill="none" stroke="#c4c5cc" stroke-width="18" opacity="0.6" filter="url(#blur3)" mask="url(#halofadeR)"/>
<path d="M342.4,2.3 L343.9,8.7 L345.4,15.1 L346.9,21.3 L348.4,27.4 L349.9,33.3 L351.4,39.2 L352.9,44.9 L354.5,50.5 L356.0,56.0 L357.5,61.4 L359.0,66.7 L360.5,71.8 L362.0,76.9 L363.5,81.8 L365.0,86.6 L366.5,91.3 L368.0,95.8 L369.5,100.3 L371.0,104.6 L372.5,108.8 L374.0,112.9 L375.5,116.9 L377.0,120.8 L378.6,124.5 L380.1,128.1 L381.6,131.7 L383.1,135.1 L384.6,138.3 L386.1,141.5 L387.6,144.5 L389.1,147.5 L390.6,150.3 L392.1,153.0 L393.6,155.5 L395.1,158.0 L396.6,160.3 L398.1,162.6 L399.6,164.7 L401.1,166.7 L402.7,168.5 L404.2,170.3 L405.7,171.9 L407.2,173.5 L408.7,174.9 L410.2,176.1 L411.7,177.3 L413.2,178.4 L414.7,179.3 L416.2,180.1 L417.7,180.8 L419.2,181.4 L420.7,181.9 L422.2,182.2 L423.7,182.5 L425.2,182.6 L426.8,182.6 L428.3,182.5 L429.8,182.2 L431.3,181.9 L432.8,181.4 L434.3,180.8 L435.8,180.1 L437.3,179.3 L438.8,178.4 L440.3,177.3 L441.8,176.1 L443.3,174.9 L444.8,173.5 L446.3,171.9 L447.8,170.3 L449.3,168.5 L450.9,166.7 L452.4,164.7 L453.9,162.6 L455.4,160.3 L456.9,158.0 L458.4,155.5 L459.9,153.0 L461.4,150.3 L462.9,147.5 L464.4,144.5 L465.9,141.5 L467.4,138.3 L468.9,135.1 L470.4,131.7 L471.9,128.1 L473.4,124.5 L475.0,120.8 L476.5,116.9 L478.0,112.9 L479.5,108.8 L481.0,104.6 L482.5,100.3 L484.0,95.8 L485.5,91.3 L487.0,86.6 L488.5,81.8 L490.0,76.9 L491.5,71.8 L493.0,66.7 L494.5,61.4 L496.0,56.0 L497.5,50.5 L499.1,44.9 L500.6,39.2 L502.1,33.3 L503.6,27.4 L505.1,21.3 L506.6,15.1 L508.1,8.7 L509.6,2.3" fill="none" stroke="#bcb8b6" stroke-width="20" opacity="0.4" filter="url(#blur5)" mask="url(#topfade)"/>
<path d="M336.8,2.3 L338.3,8.7 L339.8,15.1 L341.3,21.3 L342.8,27.4 L344.3,33.3 L345.8,39.2 L347.3,44.9 L348.9,50.5 L350.5,56.0 L352.5,61.4 L354.6,66.7 L356.8,71.8 L359.1,76.9 L361.3,81.8 L363.5,86.6 L365.6,91.3 L367.6,95.8 L369.4,100.3 L371.0,104.6 L372.5,108.8 L374.0,112.9 L375.5,116.9 L377.0,120.8 L378.6,124.5 L380.1,128.1 L381.6,131.7 L383.1,135.1 L384.6,138.3 L386.1,141.5 L387.6,144.5 L389.1,147.5 L390.6,150.3 L392.1,153.0 L393.6,155.5 L395.1,158.0 L396.6,160.3 L398.1,162.6 L399.6,164.7 L401.1,166.7 L402.7,168.5 L404.2,170.3 L405.7,171.9 L407.2,173.5 L408.7,174.9 L410.2,176.1 L411.7,177.3 L413.2,178.4 L414.7,179.3 L416.2,180.1 L417.7,180.8 L419.2,181.4 L420.7,181.9 L422.2,182.2 L423.7,182.5 L425.2,182.6 L426.8,182.6 L428.3,182.5 L429.8,182.2 L431.3,181.9 L432.8,181.4 L434.3,180.8 L435.8,180.1 L437.3,179.3 L438.8,178.4 L440.3,177.3 L441.8,176.1 L443.3,174.9 L444.8,173.5 L446.3,171.9 L447.8,170.3 L449.3,168.5 L450.9,166.7 L452.4,164.7 L453.9,162.6 L455.4,160.3 L456.9,158.0 L458.4,155.5 L459.9,153.0 L461.4,150.3 L462.9,147.5 L464.4,144.5 L465.9,141.5 L467.4,138.3 L468.9,135.1 L470.4,131.7 L471.9,128.1 L473.4,124.5 L475.0,120.8 L476.5,116.9 L478.0,112.9 L479.5,108.8 L481.0,104.6 L482.6,100.3 L484.4,95.8 L486.4,91.3 L488.5,86.6 L490.7,81.8 L492.9,76.9 L495.2,71.8 L497.4,66.7 L499.5,61.4 L501.5,56.0 L503.1,50.5 L504.7,44.9 L506.2,39.2 L507.7,33.3 L509.2,27.4 L510.7,21.3 L512.2,15.1 L513.7,8.7 L515.2,2.3" fill="none" stroke="#f5f4f8" stroke-width="12" opacity="0.95" filter="url(#blur1)" mask="url(#topfade)"/>
<path d="M336.8,2.3 L338.3,8.7 L339.8,15.1 L341.3,21.3 L342.8,27.4 L344.3,33.3 L345.8,39.2 L347.3,44.9 L348.9,50.5 L350.5,56.0 L352.5,61.4 L354.6,66.7 L356.8,71.8 L359.1,76.9 L361.3,81.8 L363.5,86.6 L365.6,91.3 L367.6,95.8 L369.4,100.3 L371.0,104.6 L372.5,108.8 L374.0,112.9 L375.5,116.9 L377.0,120.8 L378.6,124.5 L380.1,128.1 L381.6,131.7 L383.1,135.1 L384.6,138.3 L386.1,141.5 L387.6,144.5 L389.1,147.5 L390.6,150.3 L392.1,153.0 L393.6,155.5 L395.1,158.0 L396.6,160.3 L398.1,162.6 L399.6,164.7 L401.1,166.7 L402.7,168.5 L404.2,170.3 L405.7,171.9 L407.2,173.5 L408.7,174.9 L410.2,176.1 L411.7,177.3 L413.2,178.4 L414.7,179.3 L416.2,180.1 L417.7,180.8 L419.2,181.4 L420.7,181.9 L422.2,182.2 L423.7,182.5 L425.2,182.6 L426.8,182.6 L428.3,182.5 L429.8,182.2 L431.3,181.9 L432.8,181.4 L434.3,180.8 L435.8,180.1 L437.3,179.3 L438.8,178.4 L440.3,177.3 L441.8,176.1 L443.3,174.9 L444.8,173.5 L446.3,171.9 L447.8,170.3 L449.3,168.5 L450.9,166.7 L452.4,164.7 L453.9,162.6 L455.4,160.3 L456.9,158.0 L458.4,155.5 L459.9,153.0 L461.4,150.3 L462.9,147.5 L464.4,144.5 L465.9,141.5 L467.4,138.3 L468.9,135.1 L470.4,131.7 L471.9,128.1 L473.4,124.5 L475.0,120.8 L476.5,116.9 L478.0,112.9 L479.5,108.8 L481.0,104.6 L482.6,100.3 L484.4,95.8 L486.4,91.3 L488.5,86.6 L490.7,81.8 L492.9,76.9 L495.2,71.8 L497.4,66.7 L499.5,61.4 L501.5,56.0 L503.1,50.5 L504.7,44.9 L506.2,39.2 L507.7,33.3 L509.2,27.4 L510.7,21.3 L512.2,15.1 L513.7,8.7 L515.2,2.3" fill="none" stroke="#e2dfea" stroke-width="16" opacity="0.6" filter="url(#blotch)"/>
<path d="M336.8,2.3 L338.3,8.7 L339.8,15.1 L341.3,21.3 L342.8,27.4 L344.3,33.3 L345.8,39.2 L347.3,44.9 L348.9,50.5 L350.5,56.0 L352.5,61.4 L354.6,66.7 L356.8,71.8 L359.1,76.9 L361.3,81.8 L363.5,86.6 L365.6,91.3 L367.6,95.8 L369.4,100.3 L371.0,104.6 L372.5,108.8 L374.0,112.9 L375.5,116.9 L377.0,120.8 L378.6,124.5 L380.1,128.1 L381.6,131.7 L383.1,135.1 L384.6,138.3 L386.1,141.5 L387.6,144.5 L389.1,147.5 L390.6,150.3 L392.1,153.0 L393.6,155.5 L395.1,158.0 L396.6,160.3 L398.1,162.6 L399.6,164.7 L401.1,166.7 L402.7,168.5 L404.2,170.3 L405.7,171.9 L407.2,173.5 L408.7,174.9 L410.2,176.1 L411.7,177.3 L413.2,178.4 L414.7,179.3 L416.2,180.1 L417.7,180.8 L419.2,181.4 L420.7,181.9 L422.2,182.2 L423.7,182.5 L425.2,182.6 L426.8,182.6 L428.3,182.5 L429.8,182.2 L431.3,181.9 L432.8,181.4 L434.3,180.8 L435.8,180.1 L437.3,179.3 L438.8,178.4 L440.3,177.3 L441.8,176.1 L443.3,174.9 L444.8,173.5 L446.3,171.9 L447.8,170.3 L449.3,168.5 L450.9,166.7 L452.4,164.7 L453.9,162.6 L455.4,160.3 L456.9,158.0 L458.4,155.5 L459.9,153.0 L461.4,150.3 L462.9,147.5 L464.4,144.5 L465.9,141.5 L467.4,138.3 L468.9,135.1 L470.4,131.7 L471.9,128.1 L473.4,124.5 L475.0,120.8 L476.5,116.9 L478.0,112.9 L479.5,108.8 L481.0,104.6 L482.6,100.3 L484.4,95.8 L486.4,91.3 L488.5,86.6 L490.7,81.8 L492.9,76.9 L495.2,71.8 L497.4,66.7 L499.5,61.4 L501.5,56.0 L503.1,50.5 L504.7,44.9 L506.2,39.2 L507.7,33.3 L509.2,27.4 L510.7,21.3 L512.2,15.1 L513.7,8.7 L515.2,2.3" fill="none" stroke="#efeef6" stroke-width="6" opacity="0.65" filter="url(#blur2)"/>
<path d="M337.8,2.3 L339.3,8.6 L340.8,14.9 L342.3,21.0 L343.8,27.0 L345.3,32.8 L346.8,38.6 L348.3,44.2 L349.8,49.7 L351.5,55.2 L353.4,60.4 L355.4,65.6 L357.6,70.7 L359.9,75.6 L362.1,80.5 L364.3,85.2 L366.4,89.8 L368.4,94.2 L370.2,98.6 L371.9,102.8 L373.5,107.0 L375.0,111.0 L376.5,114.9 L378.0,118.7 L379.5,122.3 L381.0,125.9 L382.5,129.3 L384.0,132.6 L385.5,135.8 L387.0,138.9 L388.5,141.9 L390.0,144.7 L391.5,147.4 L393.0,150.1 L394.5,152.6 L396.0,154.9 L397.5,157.2 L399.0,159.4 L400.5,161.4 L402.0,163.3 L403.5,165.1 L405.0,166.8 L406.5,168.4 L408.0,169.8 L409.5,171.2 L411.0,172.4 L412.5,173.5 L414.0,174.5 L415.5,175.4 L417.0,176.1 L418.5,176.7 L420.0,177.3 L421.5,177.7 L423.0,178.0 L424.5,178.1 L426.0,178.2 L427.5,178.1 L429.0,178.0 L430.5,177.7 L432.0,177.3 L433.5,176.7 L435.0,176.1 L436.5,175.4 L438.0,174.5 L439.5,173.5 L441.0,172.4 L442.5,171.2 L444.0,169.8 L445.5,168.4 L447.0,166.8 L448.5,165.1 L450.0,163.3 L451.5,161.4 L453.0,159.4 L454.5,157.2 L456.0,154.9 L457.5,152.6 L459.0,150.1 L460.5,147.4 L462.0,144.7 L463.5,141.9 L465.0,138.9 L466.5,135.8 L468.0,132.6 L469.5,129.3 L471.0,125.9 L472.5,122.3 L474.0,118.7 L475.5,114.9 L477.0,111.0 L478.5,107.0 L480.1,102.8 L481.8,98.6 L483.6,94.2 L485.6,89.8 L487.7,85.2 L489.9,80.5 L492.1,75.6 L494.4,70.7 L496.6,65.6 L498.6,60.4 L500.5,55.2 L502.2,49.7 L503.7,44.2 L505.2,38.6 L506.7,32.8 L508.2,27.0 L509.7,21.0 L511.2,14.9 L512.7,8.6 L514.2,2.3" fill="none" stroke="#faf7f8" stroke-width="2.8" opacity="0.7" filter="url(#blur1)"/>
<path d="M336.0,2.3 L337.5,9.0 L339.0,15.5 L340.5,22.0 L342.1,28.3 L343.6,34.5 L345.1,40.6 L346.6,46.5 L348.1,52.3 L349.9,58.0 L352.0,63.6 L354.2,69.1 L356.4,74.5 L358.7,79.7 L361.0,84.8 L363.2,89.8 L365.2,94.7 L367.1,99.4 L368.7,104.0 L370.3,108.5 L371.8,112.9 L373.3,117.2 L374.8,121.3 L376.3,125.4 L377.8,129.3 L379.3,133.0 L380.8,136.7 L382.3,140.2 L383.8,143.7 L385.3,147.0 L386.8,150.1 L388.3,153.2 L389.8,156.1 L391.3,158.9 L392.9,161.6 L394.4,164.2 L395.9,166.6 L397.4,168.9 L398.9,171.1 L400.4,173.2 L401.9,175.1 L403.4,176.9 L404.9,178.5 L406.4,180.1 L407.9,181.5 L409.4,182.7 L410.9,183.8 L412.4,184.7 L413.9,185.4 L415.5,186.0 L417.0,186.5 L418.5,186.7 L420.0,186.9 L421.5,187.0 L423.0,187.0 L424.5,187.0 L426.0,187.0 L427.5,187.0 L429.0,187.0 L430.5,187.0 L432.0,186.9 L433.5,186.7 L435.0,186.5 L436.5,186.0 L438.1,185.4 L439.6,184.7 L441.1,183.8 L442.6,182.7 L444.1,181.5 L445.6,180.1 L447.1,178.5 L448.6,176.9 L450.1,175.1 L451.6,173.2 L453.1,171.1 L454.6,168.9 L456.1,166.6 L457.6,164.2 L459.1,161.6 L460.7,158.9 L462.2,156.1 L463.7,153.2 L465.2,150.1 L466.7,147.0 L468.2,143.7 L469.7,140.2 L471.2,136.7 L472.7,133.0 L474.2,129.3 L475.7,125.4 L477.2,121.3 L478.7,117.2 L480.2,112.9 L481.7,108.5 L483.3,104.0 L484.9,99.4 L486.8,94.7 L488.8,89.8 L491.0,84.8 L493.3,79.7 L495.6,74.5 L497.8,69.1 L500.0,63.6 L502.1,58.0 L503.9,52.3 L505.4,46.5 L506.9,40.6 L508.4,34.5 L509.9,28.3 L511.5,22.0 L513.0,15.5 L514.5,9.0 L516.0,2.3" fill="none" stroke="#faf7f8" stroke-width="2.8" opacity="0.7" filter="url(#blur1)"/>
<path d="M336.8,2.3 L338.3,8.7 L339.8,15.1 L341.3,21.3 L342.8,27.4 L344.3,33.3 L345.8,39.2 L347.3,44.9 L348.9,50.5 L350.5,56.0 L352.5,61.4 L354.6,66.7 L356.8,71.8 L359.1,76.9 L361.3,81.8 L363.5,86.6 L365.6,91.3 L367.6,95.8 L369.4,100.3 L371.0,104.6 L372.5,108.8 L374.0,112.9 L375.5,116.9 L377.0,120.8 L378.6,124.5 L380.1,128.1 L381.6,131.7 L383.1,135.1 L384.6,138.3 L386.1,141.5 L387.6,144.5 L389.1,147.5 L390.6,150.3 L392.1,153.0 L393.6,155.5 L395.1,158.0 L396.6,160.3 L398.1,162.6 L399.6,164.7 L401.1,166.7 L402.7,168.5 L404.2,170.3 L405.7,171.9 L407.2,173.5 L408.7,174.9 L410.2,176.1 L411.7,177.3 L413.2,178.4 L414.7,179.3 L416.2,180.1 L417.7,180.8 L419.2,181.4 L420.7,181.9 L422.2,182.2 L423.7,182.5 L425.2,182.6 L426.8,182.6 L428.3,182.5 L429.8,182.2 L431.3,181.9 L432.8,181.4 L434.3,180.8 L435.8,180.1 L437.3,179.3 L438.8,178.4 L440.3,177.3 L441.8,176.1 L443.3,174.9 L444.8,173.5 L446.3,171.9 L447.8,170.3 L449.3,168.5 L450.9,166.7 L452.4,164.7 L453.9,162.6 L455.4,160.3 L456.9,158.0 L458.4,155.5 L459.9,153.0 L461.4,150.3 L462.9,147.5 L464.4,144.5 L465.9,141.5 L467.4,138.3 L468.9,135.1 L470.4,131.7 L471.9,128.1 L473.4,124.5 L475.0,120.8 L476.5,116.9 L478.0,112.9 L479.5,108.8 L481.0,104.6 L482.6,100.3 L484.4,95.8 L486.4,91.3 L488.5,86.6 L490.7,81.8 L492.9,76.9 L495.2,71.8 L497.4,66.7 L499.5,61.4 L501.5,56.0 L503.1,50.5 L504.7,44.9 L506.2,39.2 L507.7,33.3 L509.2,27.4 L510.7,21.3 L512.2,15.1 L513.7,8.7 L515.2,2.3" fill="none" stroke="#cac6f0" stroke-width="2.6" opacity="0.4" filter="url(#blur1)"/>
<path d="M416,180.8 Q426,187.6 436,180.8" fill="none" stroke="#cfd4f4" stroke-width="3" stroke-linecap="round" opacity="0.95" filter="url(#blur1)"/>
<path d="M343.4,2.3 L344.4,6.5 L345.4,10.7 L346.4,14.9 L347.4,18.9 L348.4,23.0 L349.4,27.0 L350.4,30.9 L351.4,34.8 L352.4,38.6 L353.4,42.4 L354.4,46.1 L355.4,49.7 L356.4,53.4 L357.4,56.9 L358.4,60.4 L359.4,63.9 L360.4,67.3 L361.4,70.7 L362.4,74.0 L363.4,77.2 L364.4,80.5 L365.4,83.6 L366.4,86.7 L367.5,89.8 L368.5,92.8 L369.5,95.7 L370.5,98.6 L371.5,101.4 L372.5,104.2 L373.5,107.0 L374.5,109.7 L375.5,112.3 L376.5,114.9 L377.5,117.4 L378.5,119.9 L379.5,122.3 L380.5,124.7 L381.5,127.0 L382.5,129.3 L383.5,131.5 L384.5,133.7 L385.5,135.8 L386.5,137.9 L387.5,139.9 L388.5,141.9 L389.5,143.8 L390.5,145.6 L391.5,147.4 L392.5,149.2 L393.5,150.9 L394.5,152.6 L395.5,154.2 L396.5,155.7 L397.5,157.2 L398.5,158.7 L399.5,160.1 L400.5,161.4 L401.5,162.7 L402.5,163.9 L403.5,165.1 L404.5,166.3 L405.5,167.3 L406.5,168.4 L407.5,169.4 L408.5,170.3 L409.5,171.2 L410.5,172.0 L411.5,172.8 L412.5,173.5 L413.5,174.2 L414.5,174.8 L415.5,175.4 L416.5,175.9 L417.5,176.3 L418.5,176.7 L419.5,177.1 L420.5,177.4 L421.5,177.7 L422.5,177.9 L423.5,178.0 L424.5,178.1 L425.5,178.2 L426.5,178.2 L427.5,178.1 L428.5,178.0 L429.5,177.9 L430.5,177.7 L431.5,177.4 L432.5,177.1 L433.5,176.7 L434.5,176.3 L435.5,175.9 L436.5,175.4 L437.5,174.8 L438.5,174.2 L439.5,173.5 L440.5,172.8 L441.5,172.0 L442.5,171.2 L443.5,170.3 L444.5,169.4 L445.5,168.4 L446.5,167.3 L447.5,166.3 L448.5,165.1 L449.5,163.9 L450.5,162.7 L451.5,161.4 L452.5,160.1 L453.5,158.7 L454.5,157.2 L455.5,155.7 L456.5,154.2 L457.5,152.6 L458.5,150.9 L459.5,149.2 L460.5,147.4 L461.5,145.6 L462.5,143.8 L463.5,141.9 L464.5,139.9 L465.5,137.9 L466.5,135.8 L467.5,133.7 L468.5,131.5 L469.5,129.3 L470.5,127.0 L471.5,124.7 L472.5,122.3 L473.5,119.9 L474.5,117.4 L475.5,114.9 L476.5,112.3 L477.5,109.7 L478.5,107.0 L479.5,104.2 L480.5,101.4 L481.5,98.6 L482.5,95.7 L483.5,92.8 L484.5,89.8 L485.6,86.7 L486.6,83.6 L487.6,80.5 L488.6,77.2 L489.6,74.0 L490.6,70.7 L491.6,67.3 L492.6,63.9 L493.6,60.4 L494.6,56.9 L495.6,53.4 L496.6,49.7 L497.6,46.1 L498.6,42.4 L499.6,38.6 L500.6,34.8 L501.6,30.9 L502.6,27.0 L503.6,23.0 L504.6,18.9 L505.6,14.9 L506.6,10.7 L507.6,6.5 L508.6,2.3" fill="none" stroke="#d23c46" stroke-width="1.4" stroke-linecap="round" stroke-dasharray="0.01 3.3" stroke-dashoffset="0" opacity="0.95"/>
<path d="M341.6,2.3 L342.6,6.8 L343.6,11.2 L344.6,15.5 L345.6,19.8 L346.6,24.1 L347.7,28.3 L348.7,32.4 L349.7,36.5 L350.7,40.6 L351.7,44.5 L352.7,48.5 L353.7,52.3 L354.7,56.2 L355.7,59.9 L356.7,63.6 L357.7,67.3 L358.7,70.9 L359.7,74.5 L360.7,78.0 L361.7,81.4 L362.7,84.8 L363.7,88.1 L364.7,91.4 L365.7,94.7 L366.7,97.8 L367.7,101.0 L368.7,104.0 L369.7,107.1 L370.8,110.0 L371.8,112.9 L372.8,115.8 L373.8,118.6 L374.8,121.3 L375.8,124.0 L376.8,126.7 L377.8,129.3 L378.8,131.8 L379.8,134.3 L380.8,136.7 L381.8,139.1 L382.8,141.4 L383.8,143.7 L384.8,145.9 L385.8,148.0 L386.8,150.1 L387.8,152.2 L388.8,154.2 L389.8,156.1 L390.8,158.0 L391.8,159.8 L392.9,161.6 L393.9,163.3 L394.9,165.0 L395.9,166.6 L396.9,168.2 L397.9,169.7 L398.9,171.1 L399.9,172.5 L400.9,173.8 L401.9,175.1 L402.9,176.3 L403.9,177.5 L404.9,178.5 L405.9,179.6 L406.9,180.6 L407.9,181.5 L408.9,182.3 L409.9,183.1 L410.9,183.8 L411.9,184.4 L412.9,185.0 L413.9,185.4 L415.0,185.9 L416.0,186.2 L417.0,186.5 L418.0,186.6 L419.0,186.8 L420.0,186.9 L421.0,186.9 L422.0,187.0 L423.0,187.0 L424.0,187.0 L425.0,187.0 L426.0,187.0 L427.0,187.0 L428.0,187.0 L429.0,187.0 L430.0,187.0 L431.0,186.9 L432.0,186.9 L433.0,186.8 L434.0,186.6 L435.0,186.5 L436.0,186.2 L437.0,185.9 L438.1,185.4 L439.1,185.0 L440.1,184.4 L441.1,183.8 L442.1,183.1 L443.1,182.3 L444.1,181.5 L445.1,180.6 L446.1,179.6 L447.1,178.5 L448.1,177.5 L449.1,176.3 L450.1,175.1 L451.1,173.8 L452.1,172.5 L453.1,171.1 L454.1,169.7 L455.1,168.2 L456.1,166.6 L457.1,165.0 L458.1,163.3 L459.1,161.6 L460.2,159.8 L461.2,158.0 L462.2,156.1 L463.2,154.2 L464.2,152.2 L465.2,150.1 L466.2,148.0 L467.2,145.9 L468.2,143.7 L469.2,141.4 L470.2,139.1 L471.2,136.7 L472.2,134.3 L473.2,131.8 L474.2,129.3 L475.2,126.7 L476.2,124.0 L477.2,121.3 L478.2,118.6 L479.2,115.8 L480.2,112.9 L481.2,110.0 L482.3,107.1 L483.3,104.0 L484.3,101.0 L485.3,97.8 L486.3,94.7 L487.3,91.4 L488.3,88.1 L489.3,84.8 L490.3,81.4 L491.3,78.0 L492.3,74.5 L493.3,70.9 L494.3,67.3 L495.3,63.6 L496.3,59.9 L497.3,56.2 L498.3,52.3 L499.3,48.5 L500.3,44.5 L501.3,40.6 L502.3,36.5 L503.3,32.4 L504.3,28.3 L505.4,24.1 L506.4,19.8 L507.4,15.5 L508.4,11.2 L509.4,6.8 L510.4,2.3" fill="none" stroke="#d23c46" stroke-width="1.4" stroke-linecap="round" stroke-dasharray="0.01 3.3" stroke-dashoffset="1.65" opacity="0.95"/>
<rect x="336.8" y="10.3" width="178.2" height="110.5" filter="url(#speck)" opacity="0.5"/>
</g>
<rect x="129.6" y="64.3" width="32.6" height="84" fill="#fff"/>
<rect x="135.5" y="69" width="8.5" height="73.6" fill="url(#cbar)"/>
<text x="152.3" y="76.8" text-anchor="middle" class="ser" font-size="11" style="stroke-width:0.3px">1</text>
<text x="152.3" y="144.1" text-anchor="middle" class="ser" font-size="11" style="stroke-width:0.3px">0</text>
<text x="88.7" y="30.3" textLength="111" lengthAdjust="spacingAndGlyphs" class="ser" font-size="14.7" style="stroke-width:0.45px">Frequency-domain</text>
<text x="112.7" y="47.8" textLength="63" lengthAdjust="spacingAndGlyphs" class="ser" font-size="14.7" style="stroke-width:0.45px">simulation</text>
<text x="385.9" y="30.3" textLength="80" lengthAdjust="spacingAndGlyphs" class="ser" font-size="14.7" style="stroke-width:0.45px">Time-domain</text>
<text x="394.7" y="47.8" textLength="62" lengthAdjust="spacingAndGlyphs" class="ser" font-size="14.7" style="stroke-width:0.45px">simulation</text>
<text class="ser" font-size="16.5" style="stroke-width:0.5px"><tspan x="63.4" y="177.9">(</tspan><tspan x="73.5" y="179.5" font-size="19" text-anchor="middle">a</tspan><tspan x="84.3" y="177.9" text-anchor="end">)</tspan></text>
<text class="ser" font-size="16.5" style="stroke-width:0.5px"><tspan x="345.4" y="177.9">(</tspan><tspan x="355.5" y="179.5" font-size="20.3" text-anchor="middle">b</tspan><tspan x="367.0" y="177.9" text-anchor="end">)</tspan></text>
<text x="426" y="96.5" text-anchor="middle" class="ser blue" font-size="11.5">deviate from</text>
<text x="384.7" y="109" textLength="83" lengthAdjust="spacingAndGlyphs" class="ser blue" font-size="11.5">theoretical curves</text>
<ellipse cx="352.2" cy="50.5" rx="14.6" ry="49.8" transform="rotate(-15 352.2 50.5)" fill="none" stroke="#7482ac" stroke-width="1" stroke-dasharray="5.5 3"/>
<ellipse cx="499.3" cy="49.3" rx="15.3" ry="50" transform="rotate(15.5 499.3 49.3)" fill="none" stroke="#7482ac" stroke-width="1" stroke-dasharray="5.5 3"/>
<path d="M368,54 Q406.5,58.5 428.3,78.3 Q450,58.8 482,54.3" fill="none" stroke="#4a5a9c" stroke-width="1.15"/>
<path d="M366.5,53.2 L371.5,52.2 L370.8,56.4 Z" fill="#4a5a9c"/>
<path d="M483.5,53.5 L478.5,52.6 L479.2,56.8 Z" fill="#4a5a9c"/>
<text x="49.9" y="17.9" text-anchor="end" class="tk">25</text>
<text x="49.9" y="52.3" text-anchor="end" class="tk">20</text>
<text x="49.9" y="88.2" text-anchor="end" class="tk">15</text>
<text x="49.9" y="124.2" text-anchor="end" class="tk">10</text>
<text x="49.9" y="160.2" text-anchor="end" class="tk">5</text>
<text x="49.9" y="195.2" text-anchor="end" class="tk">0</text>
<text x="330.0" y="18.6" text-anchor="end" class="tk">25</text>
<text x="330.0" y="54.4" text-anchor="end" class="tk">20</text>
<text x="330.0" y="89.9" text-anchor="end" class="tk">15</text>
<text x="330.0" y="125.1" text-anchor="end" class="tk">10</text>
<text x="330.0" y="161.2" text-anchor="end" class="tk">5</text>
<text x="330.0" y="197.1" text-anchor="end" class="tk">0</text>
<text x="89.2" y="215.9" text-anchor="middle" class="tk">−0.1</text>
<text x="145.5" y="215.9" text-anchor="middle" class="tk">0</text>
<text x="202.2" y="215.9" text-anchor="middle" class="tk">0.1</text>
<text font-size="18.5"><tspan x="106.5" y="247.9" font-style="italic">k</tspan><tspan x="115.1" y="251.5" font-size="13" font-style="italic">y</tspan><tspan x="128.7" y="247.9" textLength="56.3" lengthAdjust="spacingAndGlyphs">(1/nm)</tspan></text>
<text x="368.9" y="216.7" text-anchor="middle" class="tk">−0.1</text>
<text x="426.0" y="216.7" text-anchor="middle" class="tk">0</text>
<text x="482.7" y="216.7" text-anchor="middle" class="tk">0.1</text>
<text font-size="18.5"><tspan x="387.0" y="248.8" font-style="italic">k</tspan><tspan x="395.6" y="252.4" font-size="13" font-style="italic">y</tspan><tspan x="409.2" y="248.8" textLength="56.3" lengthAdjust="spacingAndGlyphs">(1/nm)</tspan></text>
<text transform="translate(13.7,93.3) rotate(-90)" text-anchor="middle" font-size="17">f (GHz)</text>
<text transform="translate(293.9,97.5) rotate(-90)" text-anchor="middle" font-size="17">f (GHz)</text>
</svg>
</body></html>
